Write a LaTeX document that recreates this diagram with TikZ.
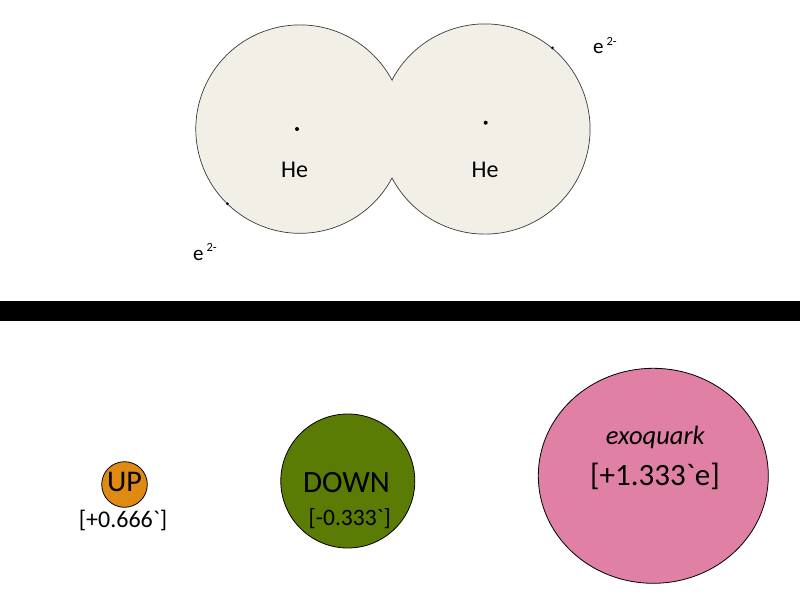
\documentclass[tikz,border=0pt]{standalone}
\usepackage{fontspec}
\usetikzlibrary{calc,shapes.geometric}
\setmainfont{Carlito}[Ligatures=TeXOff]
\newcommand\fsz[1]{\fontsize{#1}{#1}\selectfont}
\definecolor{hefill}{HTML}{F2EFE6}
\definecolor{heline}{HTML}{3A3A3A}
\definecolor{upfill}{HTML}{DF8A12}
\definecolor{downfill}{HTML}{5A7B04}
\definecolor{exofill}{HTML}{E080A5}
\begin{document}
\begin{tikzpicture}[x=1pt,y=1pt,
  lbl/.style={inner sep=0pt,text=black},
  quark/.style={draw=black,line width=0.8pt},
  nucdot/.style={fill=black,circle,inner sep=0pt,minimum size=4pt},
  edot/.style={fill=black,circle,inner sep=0pt,minimum size=3pt}]
\useasboundingbox (0,0) rectangle (800,600);
% helium pair
\coordinate (c1) at (300,471);
\coordinate (c2) at (485,471);
\coordinate (nt) at (392,520);
\path[fill=hefill,draw=heline,line width=0.7pt]
  (nt) arc[start angle=152.2,end angle=-152.2,radius=105.1pt]
       arc[start angle=-28.0,end angle=-332.0,radius=104.2pt] -- cycle;
\node[nucdot] (n1) at (297,471) {};
\node[nucdot] (n2) at (485.7,477.3) {};
\node[lbl,font=\fsz{24}] (he1) at (294.5,430) {He};
\node[lbl,font=\fsz{24}] (he2) at (485,430) {He};
\node[edot] (e1dot) at ($(c1)+(225.8:104.2pt)$) {};
\node[edot] (e2dot) at ($(c2)+(50.2:105.5pt)$) {};
\node[lbl,font=\fsz{21}] (e1) at (198.3,345) {e};
\node[lbl,font=\fsz{12.5}] (e1s) at (211.7,352.7) {2-};
\node[lbl,font=\fsz{21}] (e2) at (598.3,552) {e};
\node[lbl,font=\fsz{12.5}] (e2s) at (611.7,558.3) {2-};
% separator bar
\fill[black] (0,279) rectangle (800,299);
% quarks
\node[quark,circle,fill=upfill,minimum size=45.6pt,inner sep=0pt] (up) at (124.5,115.5) {};
\node[lbl,font=\fsz{30}] (uplbl) at (124.5,118) {UP};
\node[lbl,font=\fsz{24}] (upq) at (123,80) {[+0.666`]};
\node[quark,circle,fill=downfill,minimum size=134pt,inner sep=0pt] (down) at (347.8,119) {};
\node[lbl,font=\fsz{31}] (downlbl) at (346.5,117.5) {DOWN};
\node[lbl,font=\fsz{23.5}] (downq) at (349.7,81.7) {[-0.333`]};
\node[quark,ellipse,fill=exofill,minimum width=230pt,minimum height=215pt,inner sep=0pt] (exo) at (653.3,124.2) {};
\node[lbl,font=\fsz{26.5}\itshape] (exolbl) at (655.3,162.7) {exoquark};
\node[lbl,font=\fsz{31}] (exoq) at (655,123.3) {[+1.333`e]};
\end{tikzpicture}
\end{document}
